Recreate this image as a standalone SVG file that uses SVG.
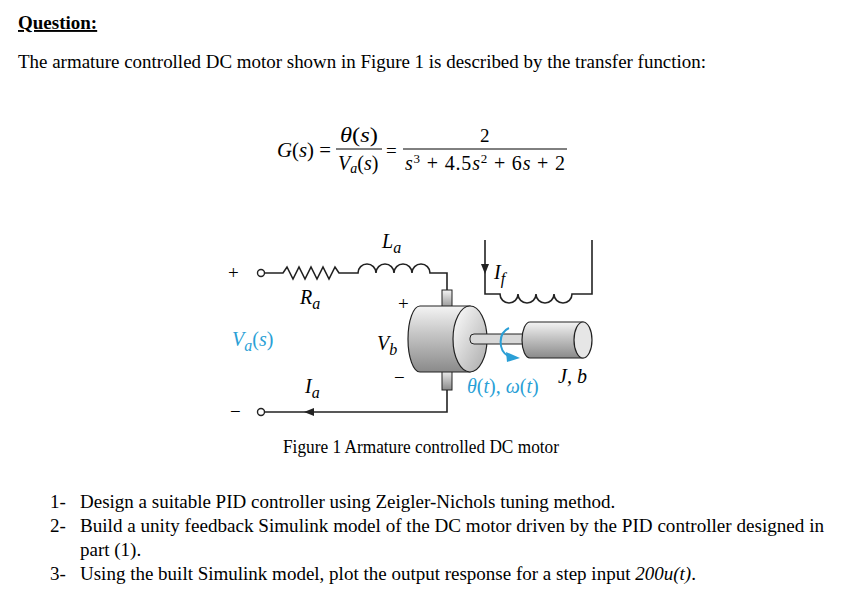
<svg xmlns="http://www.w3.org/2000/svg" width="842" height="615" viewBox="0 0 842 615">
<defs>
<style>
.t{font-family:"Liberation Serif",serif;font-size:19px;fill:#000}
.m{font-family:"Liberation Serif",serif;font-size:20px;font-style:italic;fill:#000}
.c{fill:#2a9fd6}
.w{fill:none;stroke:#222;stroke-width:1.6}
</style>
<linearGradient id="g" x1="0" y1="0" x2="0" y2="1"><stop offset="0" stop-color="#f4f4f4"/><stop offset="0.4" stop-color="#c8c8c8"/><stop offset="1" stop-color="#8a8a8a"/></linearGradient>
<linearGradient id="g2" x1="0" y1="0" x2="1" y2="1"><stop offset="0" stop-color="#fff"/><stop offset="1" stop-color="#aaa"/></linearGradient>
</defs>
<rect width="842" height="615" fill="#fff"/>
<text x="18" y="29" class="t" font-weight="bold" font-size="20" text-decoration="underline">Question:</text>
<text x="18" y="68" class="t" textLength="688" lengthAdjust="spacingAndGlyphs">The armature controlled DC motor shown in Figure 1 is described by the transfer function:</text>
<g id="formula">
<text x="277" y="157" class="m" textLength="54" lengthAdjust="spacingAndGlyphs">G<tspan font-style="normal">(</tspan>s<tspan font-style="normal">) =</tspan></text>
<text x="340" y="142" class="m" textLength="38" lengthAdjust="spacingAndGlyphs">θ<tspan font-style="normal">(</tspan>s<tspan font-style="normal">)</tspan></text>
<line x1="336" y1="149" x2="382" y2="149" stroke="#000" stroke-width="1"/>
<text x="338" y="170" class="m">V<tspan font-size="14" dy="3">a</tspan><tspan font-style="normal" dy="-3">(</tspan>s<tspan font-style="normal">)</tspan></text>
<text x="386" y="157" class="t" font-size="20">=</text>
<text x="480" y="142" class="t" font-size="20">2</text>
<line x1="403" y1="149" x2="567" y2="149" stroke="#000" stroke-width="1"/>
<text x="405" y="170" class="m" textLength="160" lengthAdjust="spacing">s<tspan font-size="13" dy="-7" font-style="normal">3</tspan><tspan font-style="normal" dy="7"> + 4.5</tspan>s<tspan font-size="13" dy="-7" font-style="normal">2</tspan><tspan font-style="normal" dy="7"> + 6</tspan>s<tspan font-style="normal"> + 2</tspan></text>
</g>
<g id="circuit">
<text x="228" y="279" class="t" font-size="20">+</text>
<circle cx="261" cy="273" r="3.5" fill="#fff" stroke="#222" stroke-width="1.4"/>
<path class="w" d="M265 273 H283 l4 -6 l6 12 l6 -12 l6 12 l6 -12 l6 12 l6 -12 l6 12 l6 -12 l4 6 H358 a9 9 0 0 1 18 0 a9 9 0 0 1 18 0 a9 9 0 0 1 18 0 a9 9 0 0 1 18 0 H447 V290"/>
<text x="230" y="418" class="t" font-size="20">−</text>
<circle cx="261" cy="412" r="3.5" fill="#fff" stroke="#222" stroke-width="1.4"/>
<path class="w" d="M265 412 H447 V390"/>
<path d="M304 412 l10 -4 v8z" fill="#222"/>
<path class="w" d="M485 240 V294 H500 a9 9 0 0 0 18 0 a9 9 0 0 0 18 0 a9 9 0 0 0 18 0 a9 9 0 0 0 18 0 H592 V240"/>
<path d="M485 274 l-4 -10 h8z" fill="#222"/>
</g>
<g id="motor">
<rect x="442" y="290" width="10" height="20" fill="url(#g)" stroke="#222"/>
<rect x="442" y="370" width="10" height="20" fill="url(#g)" stroke="#222"/>
<path d="M420 306 H470 V372 H420 A12 33 0 0 1 420 306 Z" fill="url(#g)" stroke="#222" stroke-width="1.2"/>
<ellipse cx="470" cy="339" rx="17" ry="33" fill="url(#g2)" stroke="#222" stroke-width="1.2"/>
<rect x="470" y="334" width="56" height="10" rx="4" fill="#d8d8d8" stroke="#222"/>
<path d="M530 322 H583 V358 H530 A8 18 0 0 1 530 322 Z" fill="url(#g)" stroke="#222" stroke-width="1.2"/>
<ellipse cx="583" cy="340" rx="9" ry="18" fill="#e6e6e6" stroke="#222" stroke-width="1.2"/>
<path d="M509 328 C498 333 498 350 508 356" fill="none" stroke="#2a9fd6" stroke-width="2"/>
<path d="M506 352 l14 6 l-13 4z" class="c"/>
</g>
<g id="labels">
<text x="382" y="248" class="m" font-size="23">L<tspan font-size="16" dy="5">a</tspan></text>
<text x="494" y="279" class="m" font-size="23">I<tspan font-size="16" dy="5">f</tspan></text>
<text x="300" y="304" class="m" font-size="23">R<tspan font-size="16" dy="5">a</tspan></text>
<text x="398" y="310" class="t" font-size="20">+</text>
<text x="232" y="346" class="m c" font-size="23">V<tspan font-size="16" dy="5">a</tspan><tspan font-style="normal" dy="-5">(</tspan>s<tspan font-style="normal">)</tspan></text>
<text x="377" y="350" class="m" font-size="23">V<tspan font-size="16" dy="5">b</tspan></text>
<text x="394" y="384" class="t" font-size="20">−</text>
<text x="305" y="393" class="m" font-size="23">I<tspan font-size="16" dy="5">a</tspan></text>
<text x="467" y="393" class="m c" font-size="19">θ<tspan font-style="normal">(</tspan>t<tspan font-style="normal">), </tspan>ω<tspan font-style="normal">(</tspan>t<tspan font-style="normal">)</tspan></text>
<text x="558" y="383" class="m" font-size="22">J, b</text>
</g>
<text x="283" y="453" class="t" font-size="16.5" textLength="276" lengthAdjust="spacingAndGlyphs">Figure 1 Armature controlled DC motor</text>
<text x="50" y="508" class="t">1-</text><text x="80" y="508" class="t">Design a suitable PID controller using Zeigler-Nichols tuning method.</text>
<text x="50" y="532" class="t">2-</text><text x="80" y="532" class="t" textLength="744" lengthAdjust="spacingAndGlyphs">Build a unity feedback Simulink model of the DC motor driven by the PID controller designed in</text>
<text x="80" y="556" class="t">part (1).</text>
<text x="50" y="580" class="t">3-</text><text x="80" y="580" class="t">Using the built Simulink model, plot the output response for a step input <tspan font-style="italic">200u(t)</tspan>.</text>
</svg>
